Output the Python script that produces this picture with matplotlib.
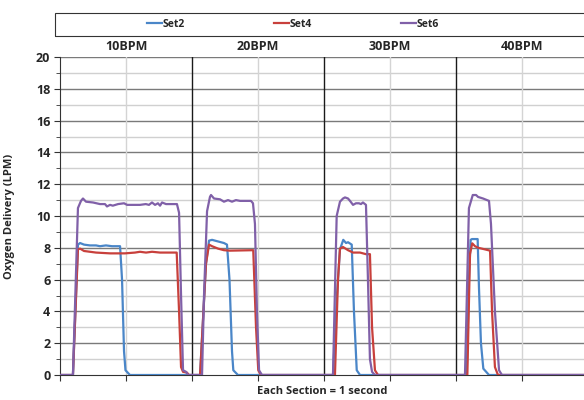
import matplotlib
matplotlib.use('Agg')
import matplotlib.pyplot as plt
from matplotlib.patches import Rectangle
from matplotlib.ticker import MultipleLocator

plt.rcParams['font.family'] = ['Open Sans', 'DejaVu Sans']

# time in seconds (each section = 1 s), oxygen delivery in LPM
t_set2 = [0, 0.098, 0.136, 0.152, 0.182, 0.227, 0.273, 0.303, 0.348, 0.394, 0.455, 0.47, 0.485, 0.496, 0.53,
          1.061, 1.106, 1.129, 1.152, 1.197, 1.242, 1.265, 1.284, 1.303, 1.313, 1.348,
          2.068, 2.098, 2.121, 2.146, 2.167, 2.182, 2.21, 2.227, 2.248, 2.273,
          3.081, 3.098, 3.111, 3.121, 3.164, 3.174, 3.189, 3.207, 3.25, 4.0]
v_set2 = [0, 0, 8.2, 8.3, 8.2, 8.15, 8.15, 8.1, 8.15, 8.1, 8.1, 6.0, 1.5, 0.3, 0,
          0, 7.0, 8.45, 8.5, 8.4, 8.3, 8.2, 6.0, 1.5, 0.3, 0,
          0, 5.0, 7.9, 8.5, 8.3, 8.35, 8.2, 4.0, 0.3, 0,
          0, 6.0, 8.5, 8.55, 8.55, 5.5, 2.0, 0.4, 0, 0]

t_set4 = [0, 0.098, 0.136, 0.152, 0.182, 0.227, 0.273, 0.379, 0.492, 0.568, 0.606, 0.652, 0.697, 0.758, 0.833,
          0.884, 0.902, 0.917, 0.932, 0.962, 0.977,
          1.061, 1.106, 1.129, 1.152, 1.197, 1.242, 1.288, 1.464, 1.485, 1.502, 1.523,
          2.083, 2.106, 2.121, 2.144, 2.182, 2.22, 2.273, 2.318, 2.348, 2.364, 2.386, 2.409,
          3.086, 3.106, 3.123, 3.144, 3.169, 3.22, 3.258, 3.273, 3.295, 3.318, 4.0]
v_set4 = [0, 0, 7.9, 7.95, 7.8, 7.75, 7.7, 7.65, 7.65, 7.7, 7.75, 7.7, 7.75, 7.7, 7.7,
          7.7, 4.0, 0.5, 0.2, 0.15, 0,
          0, 7.0, 8.2, 8.1, 7.95, 7.85, 7.82, 7.85, 3.0, 0.3, 0,
          0, 6.0, 7.95, 8.05, 7.85, 7.7, 7.7, 7.6, 7.6, 3.0, 0.3, 0,
          0, 7.6, 8.28, 8.1, 8.0, 7.9, 7.82, 4.0, 0.5, 0, 0]

t_set6 = [0, 0.098, 0.136, 0.159, 0.174, 0.197, 0.25, 0.303, 0.341, 0.356, 0.379, 0.4, 0.44, 0.485, 0.508,
          0.56, 0.606, 0.65, 0.674, 0.697, 0.72, 0.742, 0.758, 0.773, 0.803, 0.848, 0.886, 0.902, 0.917,
          0.932, 0.955, 0.97,
          1.076, 1.091, 1.114, 1.136, 1.144, 1.167, 1.212, 1.242, 1.273, 1.303, 1.333, 1.364, 1.409, 1.447,
          1.462, 1.477, 1.492, 1.508, 1.53,
          2.068, 2.096, 2.121, 2.144, 2.159, 2.182, 2.197, 2.22, 2.242, 2.265, 2.28, 2.295, 2.318, 2.333,
          2.348, 2.364, 2.386,
          3.068, 3.098, 3.127, 3.152, 3.167, 3.205, 3.25, 3.265, 3.295, 3.326, 3.348, 4.0]
v_set6 = [0, 0, 10.5, 10.95, 11.1, 10.9, 10.85, 10.75, 10.75, 10.6, 10.7, 10.65, 10.75, 10.8, 10.7,
          10.7, 10.7, 10.75, 10.7, 10.85, 10.7, 10.8, 10.65, 10.85, 10.75, 10.75, 10.75, 10.2, 5.0,
          0.3, 0.2, 0,
          0, 5.0, 10.3, 11.2, 11.32, 11.1, 11.05, 10.9, 11.0, 10.9, 11.0, 10.95, 10.95, 10.95,
          10.8, 9.5, 4.0, 0.3, 0,
          0, 10.0, 10.9, 11.1, 11.17, 11.1, 10.95, 10.7, 10.8, 10.8, 10.75, 10.85, 10.7, 6.0,
          1.0, 0.2, 0,
          0, 10.5, 11.32, 11.32, 11.2, 11.1, 10.95, 9.5, 4.0, 0.3, 0, 0]

sections = ['10BPM', '20BPM', '30BPM', '40BPM']

fig = plt.figure(figsize=(5.84, 4.0), dpi=100)
ax = fig.add_axes([60 / 584, 25 / 400, 524 / 584, 318 / 400])

# grid
for y in range(1, 20, 2):
    ax.axhline(y, color='#d0d0d0', lw=1.0, zorder=1)
for y in range(2, 21, 2):
    ax.axhline(y, color='#7a7a7a', lw=1.0, zorder=1)
for i in range(4):
    ax.axvline(i + 0.5, color='#d4d4d4', lw=1.0, zorder=1)
for i in range(1, 4):
    ax.axvline(i, color='#1a1a1a', lw=1.0, zorder=1)

l2, = ax.plot(t_set2, v_set2, color='#4a86c8', lw=1.6, zorder=3, label='Set2')
l4, = ax.plot(t_set4, v_set4, color='#c8403c', lw=1.6, zorder=3, label='Set4')
l6, = ax.plot(t_set6, v_set6, color='#8060a8', lw=1.6, zorder=4, label='Set6')

ax.set_xlim(0, 524 / 132)
ax.set_ylim(0, 20)
ax.yaxis.set_major_locator(MultipleLocator(2))
ax.yaxis.set_minor_locator(MultipleLocator(1))
ax.xaxis.set_major_locator(MultipleLocator(0.5))
ax.set_xticklabels([])
ax.tick_params(axis='x', length=4, color='#333333')
ax.tick_params(axis='y', which='major', length=4, color='#333333', labelsize=9, pad=3, labelcolor='#262626')
ax.tick_params(axis='y', which='minor', length=3, color='#333333')
for lab in ax.get_yticklabels():
    lab.set_fontweight('bold')

for s in ['top', 'right']:
    ax.spines[s].set_visible(False)
ax.spines['left'].set_color('#333333')
ax.spines['bottom'].set_color('#333333')

for i, name in enumerate(sections):
    ax.text(i + 0.5, 20.65, name, ha='center', va='center', fontsize=9, fontweight='bold',
            color='#262626', clip_on=False)

ax.set_ylabel('Oxygen Delivery (LPM)', fontsize=8, fontweight='bold', color='#262626')
ax.yaxis.set_label_coords(-0.085, 0.5)
fig.text(322 / 584, 1 - 392 / 400, 'Each Section = 1 second', ha='center', va='center',
         fontsize=8, fontweight='bold', color='#262626')

# legend box across the top
fig.add_artist(Rectangle((55 / 584, 1 - 36 / 400), 540 / 584, 23 / 400, transform=fig.transFigure,
                         fill=False, edgecolor='#333333', lw=0.8))
leg = fig.legend(handles=[l2, l4, l6], loc='center', bbox_to_anchor=(293 / 584, 1 - 24.5 / 400),
                 ncol=3, frameon=False, fontsize=7.5, handlelength=1.45, handletextpad=0.1,
                 columnspacing=8.5, borderpad=0, borderaxespad=0)
for txt in leg.get_texts():
    txt.set_fontweight('bold')
    txt.set_color('#262626')

fig.savefig('out.png', dpi=100)
